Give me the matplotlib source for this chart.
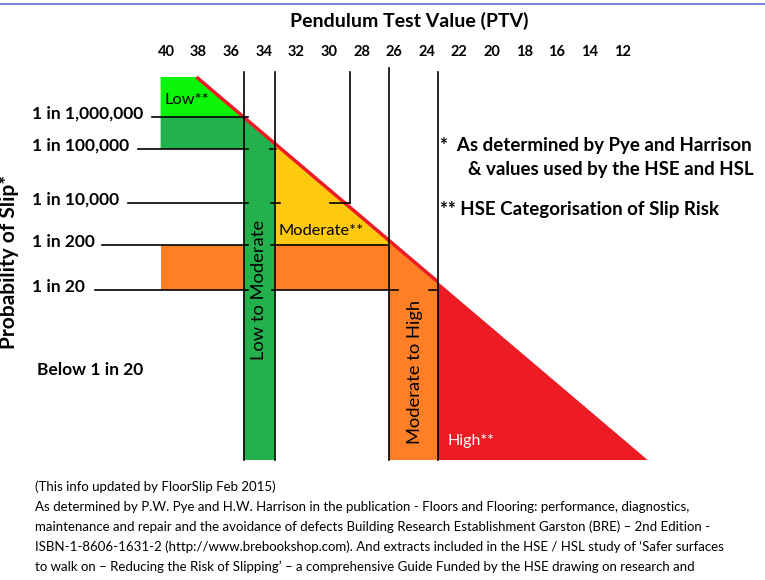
import matplotlib.pyplot as plt
import numpy as np
from matplotlib.patches import Polygon

plt.rcParams['font.family'] = ['Lato', 'DejaVu Sans']

# PTV scale along the top
ptv_ticks = [40, 38, 36, 34, 32, 30, 28, 26, 24, 22, 20, 18, 16, 14, 12]

# probability rows (row position down the diagram)
prob_labels = ['1 in 1,000,000', '1 in 100,000', '1 in 10,000', '1 in 200', '1 in 20']
prob_rows = [117, 149, 203, 245, 290]
below_label = 'Below 1 in 20'

# PTV boundaries
left_edge = 40.7
low_mod = (35.6, 33.7)      # "Low to Moderate" band
mid_line = 29.1
mod_high = (26.7, 23.7)     # "Moderate to High" band
top_row, bottom_row = 77, 460

# diagonal limit line (PTV, row) at both ends
diag_ptv = [38.5, 10.8]
diag_rows = [77, 460]

c_low = '#0AF50A'
c_lowmod = '#22B14C'
c_mod = '#FFC90E'
c_modhigh = '#FF7F27'
c_high = '#ED1C24'

notes = ['(This info updated by FloorSlip Feb 2015)',
         'As determined by P.W. Pye and H.W. Harrison in the publication - Floors and Flooring: performance, diagnostics,',
         'maintenance and repair and the avoidance of defects Building Research Establishment Garston (BRE) \u2013 2nd Edition -',
         'ISBN-1-8606-1631-2 (http://www.brebookshop.com). And extracts included in the HSE / HSL study of \u2018Safer surfaces',
         'to walk on \u2013 Reducing the Risk of Slipping\u2019 \u2013 a comprehensive Guide Funded by the HSE drawing on research and']


def diag_x(row):
    return np.interp(row, diag_rows, diag_ptv)


def diag_row(ptv):
    return np.interp(ptv, diag_ptv[::-1], diag_rows[::-1])


W, H = 765, 580
fig = plt.figure(figsize=(W / 100, H / 100), dpi=100)
ax = fig.add_axes([0, 0, 1, 1])
# x in PTV (decreasing to the right), y in diagram rows
ax.set_xlim(40 + 172 / 16.29, 40 - (W - 172) / 16.29)
ax.set_ylim(H, 0)
ax.axis('off')

r1, r2, r3, r4, r5 = prob_rows
a, b = low_mod
c, d = mod_high

regions = [
    (c_low, [(left_edge, top_row), (diag_ptv[0], top_row), (diag_x(r1), r1), (left_edge, r1)]),
    (c_lowmod, [(left_edge, r1), (diag_x(r1), r1), (b, diag_row(b)), (b, bottom_row),
                (a, bottom_row), (a, r2), (left_edge, r2)]),
    (c_mod, [(b, diag_row(b)), (diag_x(r4), r4), (b, r4)]),
    (c_modhigh, [(left_edge, r4), (a, r4), (a, r5), (left_edge, r5)]),
    (c_modhigh, [(b, r4), (diag_x(r4), r4), (d, diag_row(d)), (d, bottom_row),
                 (c, bottom_row), (c, r5), (b, r5)]),
    (c_high, [(d, diag_row(d)), (diag_ptv[1], bottom_row), (d, bottom_row)]),
]
for col, pts in regions:
    ax.add_patch(Polygon(pts, closed=True, facecolor=col, edgecolor='none'))

ax.plot([diag_ptv[0], d], [top_row, diag_row(d)], color=c_high, lw=2.5, solid_capstyle='butt')

# black guide lines
lw = 1.2
line_starts = [41.2, 42.1, 42.7, 44.3, 44.7]
for r, s in zip(prob_rows, line_starts):
    ax.plot([s, a - 0.25], [r, r], color='black', lw=lw)
ax.plot([b + 0.3, b - 0.1], [r2, r2], color='black', lw=lw)
ax.plot([b + 0.25, b - 0.3], [r3, r3], color='black', lw=lw)
ax.plot([mid_line + 1.2, mid_line], [r3, r3], color='black', lw=lw)
ax.plot([b + 0.2, c + 0.1], [r4, r4], color='black', lw=lw)
ax.plot([b + 0.15, c - 0.6], [r5, r5], color='black', lw=lw)
ax.plot([d + 0.55, d], [r5, r5], color='black', lw=lw)

for x, y0, y1 in [(a, 72, bottom_row), (b, 72, bottom_row), (mid_line, 72, r3),
                  (c, 68, bottom_row), (d, 72, bottom_row)]:
    ax.plot([x, x], [y0, y1], color='black', lw=lw)

# top border line
ax.axhline(4, color='#6A6AD8', lw=1.2)

# text
ax.text(0.535, 1 - 21 / H, 'Pendulum Test Value (PTV)', transform=ax.transAxes,
        ha='center', va='center', fontsize=14, fontweight='bold')
for t in ptv_ticks:
    ax.text(t + 0.37, 52, str(t), ha='center', va='center', fontsize=10.5, fontweight='bold')

for lab, r in zip(prob_labels, prob_rows):
    ax.text(32 / W, 1 - (r - 3) / H, lab, transform=ax.transAxes, ha='left', va='center',
            fontsize=12.5, fontweight='bold')
ax.text(37 / W, 1 - 370 / H, below_label, transform=ax.transAxes, ha='left', va='center',
        fontsize=12.5, fontweight='bold')
ax.text(9 / W, 1 - 262 / H, 'Probability of Slip*', transform=ax.transAxes, rotation=90,
        ha='center', va='center', fontsize=15, fontweight='bold')

ax.text(440 / W, 1 - 145 / H, '*  As determined by Pye and Harrison', transform=ax.transAxes,
        ha='left', va='center', fontsize=13.5, fontweight='bold')
ax.text(468 / W, 1 - 170 / H, '& values used by the HSE and HSL', transform=ax.transAxes,
        ha='left', va='center', fontsize=13.5, fontweight='bold')
ax.text(440 / W, 1 - 209 / H, '** HSE Categorisation of Slip Risk', transform=ax.transAxes,
        ha='left', va='center', fontsize=13.5, fontweight='bold')

ax.text(left_edge - 0.25, 100, 'Low**', ha='left', va='center', fontsize=11.8)
ax.text(b - 0.25, 231, 'Moderate**', ha='left', va='center', fontsize=11.8)
ax.text(d - 0.6, 441, 'High**', ha='left', va='center', fontsize=11.5, color='white')
ax.text((a + b) / 2, 290, 'Low to Moderate', rotation=90, ha='center', va='center', fontsize=13.2)
ax.text((c + d) / 2 - 0.1, 372, 'Moderate to High', rotation=90, ha='center', va='center', fontsize=13.2)

for i, line in enumerate(notes):
    fig.text(35 / W, 1 - (487 + 20 * i) / H, line, ha='left', va='center', fontsize=9.5)

fig.savefig('out.png', dpi=100)
